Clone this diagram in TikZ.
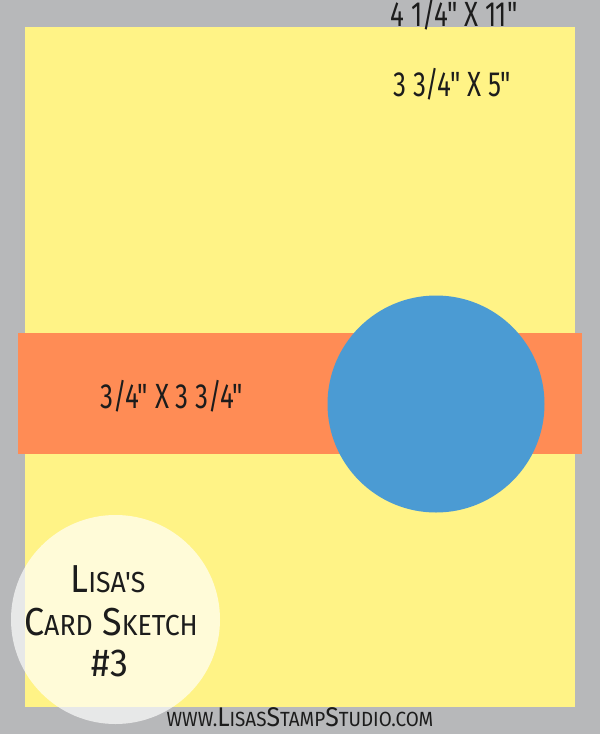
\documentclass[tikz,border=0pt]{standalone}
\usepackage{fontspec}
\setmainfont{Fira Sans}
\newfontfamily\dimfont[FakeStretch=0.74]{Fira Sans}
\newfontfamily\scfont[FakeStretch=0.92]{Fira Sans}
\definecolor{bggray}{HTML}{B7B8BA}
\definecolor{cardyellow}{HTML}{FFF386}
\definecolor{bandorange}{HTML}{FF8C55}
\definecolor{circblue}{HTML}{4B9BD3}
\definecolor{ink}{HTML}{1C1C1C}
\tikzset{
  dimtext/.style={text=ink, inner sep=0pt, font=\dimfont\fontsize{35}{35}\selectfont},
  titletext/.style={text=ink, inner sep=0pt, font=\scfont\fontsize{39}{39}\selectfont},
}
\begin{document}
\begin{tikzpicture}[x=1pt,y=-1pt]
\fill[bggray] (0,0) rectangle (600,734);
\useasboundingbox (0,0) rectangle (600,734);
% card
\fill[cardyellow] (25,27) rectangle (575,707);
% band
\fill[bandorange] (18,333) rectangle (582,454);
% blue circle
\fill[circblue] (436,404) circle[radius=108.5];
% pale circle
\fill[white, opacity=0.68] (115.5,619.5) circle[radius=104.5];
% texts
\node[dimtext] (t1) at (454,14) {4 1/4" X 11"};
\node[dimtext] (t2) at (452,84) {3 3/4" X 5"};
\node[dimtext] (t3) at (172,396) {3/4" X 3 3/4"};
\node[titletext] (l1) at (108,579) {L{\fontsize{29}{29}\selectfont ISA'S}};
\node[titletext] (l2) at (111,622) {C{\fontsize{29}{29}\selectfont ARD} S{\fontsize{29}{29}\selectfont KETCH}};
\node[titletext] (l3) at (110,663) {\#3};
\node[text=ink, inner sep=0pt, anchor=base, font=\scfont\fontsize{27}{27}\selectfont] (web) at (300,726) {{\fontsize{20.5}{20.5}\selectfont WWW.}L{\fontsize{20.5}{20.5}\selectfont ISAS}S{\fontsize{20.5}{20.5}\selectfont TAMP}S{\fontsize{20.5}{20.5}\selectfont TUDIO.COM}};
\end{tikzpicture}
\end{document}
